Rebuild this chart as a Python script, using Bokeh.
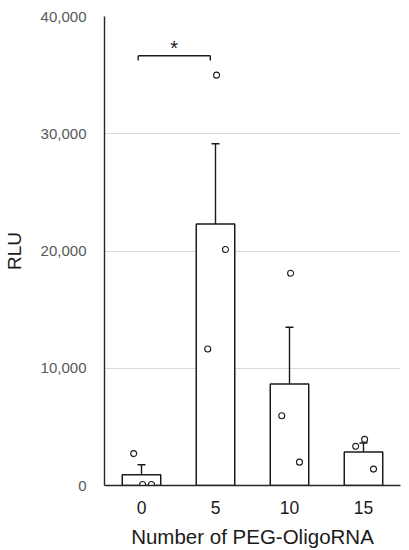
from bokeh.plotting import figure
from bokeh.models import FactorRange, Range1d, FixedTicker, NumeralTickFormatter, ColumnDataSource, Whisker, TeeHead
from bokeh.transform import dodge
from bokeh.core.properties import value
from bokeh.embed import file_html
from bokeh.resources import INLINE

categories = ["0", "5", "10", "15"]
means = [925, 22300, 8650, 2850]
sems = [840, 6850, 4850, 770]
dots_left = [2720, 11640, 5950, 3340]
dots_mid = [90, 35000, 18100, 3930]
dots_right = [90, 20130, 1990, 1400]
y_ticks = [0, 10000, 20000, 30000, 40000]
sig_pair = ["0", "5"]
sig_y = 36650
sig_leg = 36250
sig_star_y = 37300

FONT = "Liberation Sans"

p = figure(width=409, height=550, x_range=FactorRange(*categories), y_range=Range1d(0, 40000),
           output_backend="svg", toolbar_location=None,
           min_border_left=103, min_border_right=9, min_border_top=16, min_border_bottom=58)
p.outline_line_color = None
p.background_fill_color = "white"
p.xgrid.grid_line_color = None
p.ygrid.grid_line_color = "#d9d9d9"
p.ygrid.grid_line_width = 1.2
p.yaxis.ticker = FixedTicker(ticks=y_ticks)
p.yaxis.formatter = NumeralTickFormatter(format="0,0")

for ax in (p.xaxis[0], p.yaxis[0]):
    ax.axis_line_color = "#262626"
    ax.axis_line_width = 1.4
    ax.major_tick_line_color = None
    ax.minor_tick_line_color = None
    ax.major_tick_out = 0
    ax.major_tick_in = 0
    ax.minor_tick_out = 0
    ax.major_label_text_font = FONT
    ax.axis_label_text_font = FONT
    ax.axis_label_text_font_style = "normal"
    ax.axis_label_text_color = "#1a1a1a"

p.yaxis.major_label_text_font_size = "15px"
p.yaxis.major_label_text_color = "#595959"
p.yaxis.major_label_standoff = 18
p.yaxis.axis_label = "RLU"
p.yaxis.axis_label_text_font_size = "19px"
p.yaxis.axis_label_standoff = 13

p.xaxis.major_label_text_font_size = "17.5px"
p.xaxis.major_label_text_color = "#1a1a1a"
p.xaxis.major_label_standoff = 15
p.xaxis.axis_label = "Number of PEG-OligoRNA"
p.xaxis.axis_label_text_font_size = "20.5px"
p.xaxis.axis_label_standoff = 8

src = ColumnDataSource(dict(
    cat=categories, mean=means,
    upper=[m + s for m, s in zip(means, sems)],
    lower=[m - s for m, s in zip(means, sems)],
    dl=dots_left, dm=dots_mid, dr=dots_right,
))

p.vbar(x="cat", top="mean", width=0.52, source=src, fill_color="white",
       line_color="#1a1a1a", line_width=1.5)

w = Whisker(base="cat", upper="upper", lower="lower", source=src,
            line_color="#1a1a1a", line_width=1.4,
            upper_head=TeeHead(size=8, line_color="#1a1a1a", line_width=1.6),
            lower_head=TeeHead(size=8, line_color="#1a1a1a", line_width=1.6))
p.add_layout(w)

for col, off in (("dl", -0.105), ("dm", 0.015), ("dr", 0.135)):
    p.scatter(x=dodge("cat", off, range=p.x_range), y=col, source=src, size=6,
              marker="circle", fill_color="white", line_color="#1a1a1a", line_width=1.1)

bsrc = ColumnDataSource(dict(a=[sig_pair[0]], b=[sig_pair[1]], y=[sig_y], y0=[sig_leg], ys=[sig_star_y], s=["*"]))
p.segment(x0=dodge("a", -0.045, range=p.x_range), y0="y", x1=dodge("b", -0.07, range=p.x_range), y1="y",
          source=bsrc, line_color="#1a1a1a", line_width=1.4)
p.segment(x0=dodge("a", -0.045, range=p.x_range), y0="y", x1=dodge("a", -0.045, range=p.x_range), y1="y0",
          source=bsrc, line_color="#1a1a1a", line_width=1.4)
p.segment(x0=dodge("b", -0.07, range=p.x_range), y0="y", x1=dodge("b", -0.07, range=p.x_range), y1="y0",
          source=bsrc, line_color="#1a1a1a", line_width=1.4)
p.text(x=dodge("a", 0.44, range=p.x_range), y="ys", text="s", source=bsrc,
       text_font=value(FONT), text_font_size="20px", text_align="center",
       text_baseline="middle", text_color="#1a1a1a")

open("out.html", "w").write(file_html(p, INLINE))
